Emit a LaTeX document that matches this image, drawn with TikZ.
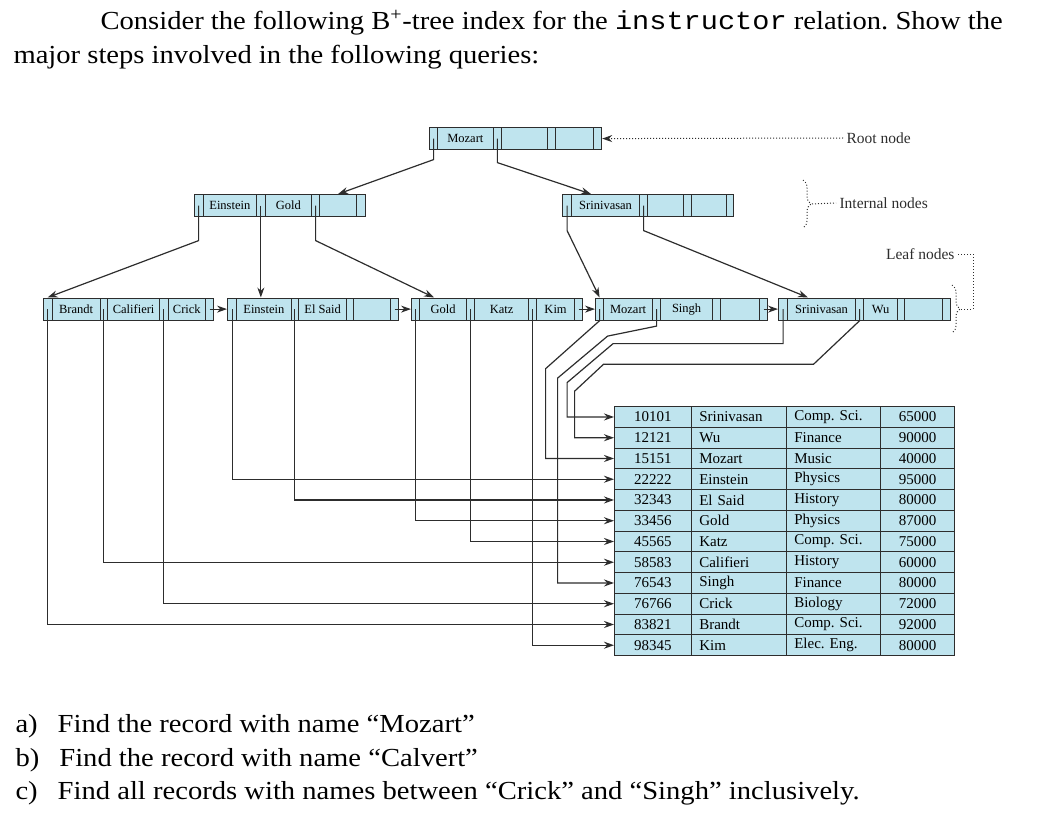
\documentclass[tikz,border=0pt]{standalone}
\usepackage{fontspec}
\setmainfont{Liberation Serif}
\setmonofont{Liberation Mono}
\newfontfamily\bodyfont[FakeStretch=1.1]{Liberation Serif}
\newfontfamily\bodymono[FakeStretch=1.1]{Liberation Mono}
\usetikzlibrary{arrows.meta,calc,decorations.pathreplacing}
\definecolor{nodeblue}{RGB}{191,228,238}
\definecolor{ink}{RGB}{45,45,45}
\frenchspacing
\newcommand\bnode[9]{%
 \node[cell,minimum width={(#3-#2)*1pt}] (#1p0) at (#2,\yt) {};
 \node[cell,minimum width={(#4-#3)*1pt}] (#1k1) at (#3,\yt) {\ka};
 \node[cell,minimum width={(#5-#4)*1pt}] (#1p1) at (#4,\yt) {};
 \node[cell,minimum width={(#6-#5)*1pt}] (#1k2) at (#5,\yt) {\kb};
 \node[cell,minimum width={(#7-#6)*1pt}] (#1p2) at (#6,\yt) {};
 \node[cell,minimum width={(#8-#7)*1pt}] (#1k3) at (#7,\yt) {\kc};
 \node[cell,minimum width={(#9-#8)*1pt}] (#1p3) at (#8,\yt) {};
}
\begin{document}
\begin{tikzpicture}[x=1pt,y=-1pt,
  cell/.style={draw=ink,fill=nodeblue,line width=1.2pt,inner sep=0pt,minimum height=22pt,anchor=north west,font=\fontsize{12.5}{12.5}\selectfont},
  tcell/.style={draw=ink,fill=nodeblue,line width=1.2pt,inner ysep=0pt,minimum height=20.75pt,anchor=north west,font=\fontsize{15}{15}\selectfont},
  ptr/.style={draw=ink,line width=1.2pt,-{Stealth[length=10pt,width=7pt]}},
  dotl/.style={dotted,draw=ink,line width=1pt},
  anno/.style={font=\fontsize{15.5}{15.5}\selectfont,text=ink},
  big/.style={font=\bodyfont\fontsize{26}{26}\selectfont,anchor=base west}]
\useasboundingbox (0,0) rectangle (1060,821);
\node[big] (h1) at (97,30) {Consider the following B\textsuperscript{+}-tree index for the {\bodymono instructor} relation. Show the};
\node[big] (h2) at (10,64) {major steps involved in the following queries:};
\node[big] (qa) at (12,732) {a)\hspace{20pt}Find the record with name “Mozart”};
\node[big] (qb) at (12,766) {b)\hspace{20pt}Find the record with name “Calvert”};
\node[big] (qc) at (12,799) {c)\hspace{20pt}Find all records with names between “Crick” and “Singh” inclusively.};
% tree nodes
\def\yt{127}\def\ka{Mozart}\def\kb{}\def\kc{}
\bnode{R}{429}{437}{492.5}{501}{547}{555}{593}{601}
\def\yt{194}\def\ka{Einstein}\def\kb{Gold}\def\kc{}
\bnode{IL}{193.5}{202.5}{256}{264.5}{311}{319}{356}{364.5}
\def\ka{Srinivasan}\def\kb{}\def\kc{}
\bnode{IR}{562}{571}{639}{647}{683}{691}{726}{733}
\def\yt{297.5}\def\ka{Brandt}\def\kb{Califieri}\def\kc{Crick}
\bnode{La}{42.5}{51.5}{99.5}{107}{159}{167.5}{205}{213}
\def\ka{Einstein}\def\kb{El Said}\def\kc{}
\bnode{Lb}{227}{236}{290.5}{298}{346}{353}{390}{398}
\def\ka{Gold}\def\kb{Katz}\def\kc{Kim}
\bnode{Lc}{411}{419}{466}{474}{528}{536}{574}{582}
\def\ka{Mozart}\def\kb{Singh}\def\kc{}
\bnode{Ld}{595}{603}{652}{660}{712}{720}{759}{767}
\def\ka{Srinivasan}\def\kb{Wu}\def\kc{}
\bnode{Le}{778}{787}{855}{863}{897}{904}{942}{950}
% tree edges
\draw[ptr] (Rp0.center) -- ++(0,21) -- (ILk3.north);
\draw[ptr] (Rp1.center) -- ++(0,24) -- ($(IRk1.north west)+(20,0)$);
\draw[ptr] (ILp0.center) -- ++(0,35) -- (Lap0.north);
\draw[ptr] (ILp1.center) -- (ILp1.center |- Lbk1.north);
\draw[ptr] (ILp2.center) -- ++(0,35) -- ($(Lck1.north west)+(15,0)$);
\draw[ptr] (IRp0.center) -- ++(0,25) -- (Ldp0.north);
\draw[ptr] (IRp1.center) -- ++(0,25) -- ($(Lek1.north west)+(21,0)$);
% sibling pointers
\draw[ptr] (Lap3.center) -- (Lbp0.west);
\draw[ptr] (Lbp3.center) -- (Lcp0.west);
\draw[ptr] (Lcp3.center) -- (Ldp0.west);
\draw[ptr] (Ldp3.center) -- (Lep0.west);
% table
\foreach \tid/\tnm/\tdep/\tsal [count=\i from 0] in {10101/Srinivasan/Comp. Sci./65000,12121/Wu/Finance/90000,15151/Mozart/Music/40000,22222/Einstein/Physics/95000,32343/El Said/History/80000,33456/Gold/Physics/87000,45565/Katz/Comp. Sci./75000,58583/Califieri/History/60000,76543/Singh/Finance/80000,76766/Crick/Biology/72000,83821/Brandt/Comp. Sci./92000,98345/Kim/Elec. Eng./80000}{
 \node[tcell,inner xsep=0pt,minimum width=76.7pt] (r\i) at (614,{406+20.75*\i}) {\tid};
 \node[tcell,inner xsep=8pt,text width=79pt,align=left] (n\i) at (690.7,{406+20.75*\i}) {\tnm};
 \node[tcell,inner xsep=8pt,text width=78.3pt,align=left] (d\i) at (785.7,{406+20.75*\i}) {\tdep};
 \node[tcell,inner xsep=0pt,minimum width=74pt] (s\i) at (880,{406+20.75*\i}) {\tsal};
}
% data pointers
\draw[ptr] (Lap0.center) |- (r10.west);
\draw[ptr] (Lap1.center) |- (r7.west);
\draw[ptr] (Lap2.center) |- (r9.west);
\draw[ptr] (Lbp0.center) |- (r3.west);
\draw[ptr] (Lbp1.center) |- (r4.west);
\draw[ptr] (Lcp0.center) |- (r5.west);
\draw[ptr] (Lcp1.center) |- (r6.west);
\draw[ptr] (Lcp2.center) |- (r11.west);
\draw[ptr] (Ldp0.center) -- (Ldp0.south) -- ++(-54,48) |- (r2.west);
\draw[ptr] (Ldp1.center) -- ++(0,17) -- ++(-49,10) -- ++(-50,42) |- (r8.west);
\draw[ptr] (Lep0.center) -- ++(0,34.5) -- ++(-170,0) -- ++(-46,39) |- (r0.west);
\draw[ptr] (Lep1.center) -- (Lep1.south) -- ++(-46,43.5) -- ++(-210,0) -- ++(-29,27) |- (r1.west);
% annotations
\node[anno,anchor=west] (rootlbl) at (843,138) {Root node};
\draw[dotl,-{Stealth[length=10pt,width=7pt]}] (rootlbl.west) -- (Rp3.east);
\node[anno,anchor=west] (intlbl) at (836,203) {Internal nodes};
\draw[dotl,decorate,decoration={brace,amplitude=8pt}] (803,180) -- (803,228);
\coordinate (intip) at (812,204);
\draw[dotl] (intip) -- (intlbl.west);
\node[anno,anchor=east] (leaflbl) at (958,254) {Leaf nodes};
\draw[dotl,decorate,decoration={brace,amplitude=8pt}] (952,285) -- (952,333);
\coordinate (leaftip) at (961,309);
\draw[dotl] (leaflbl.east) -- ++(15,0) |- (leaftip);
\end{tikzpicture}
\end{document}
